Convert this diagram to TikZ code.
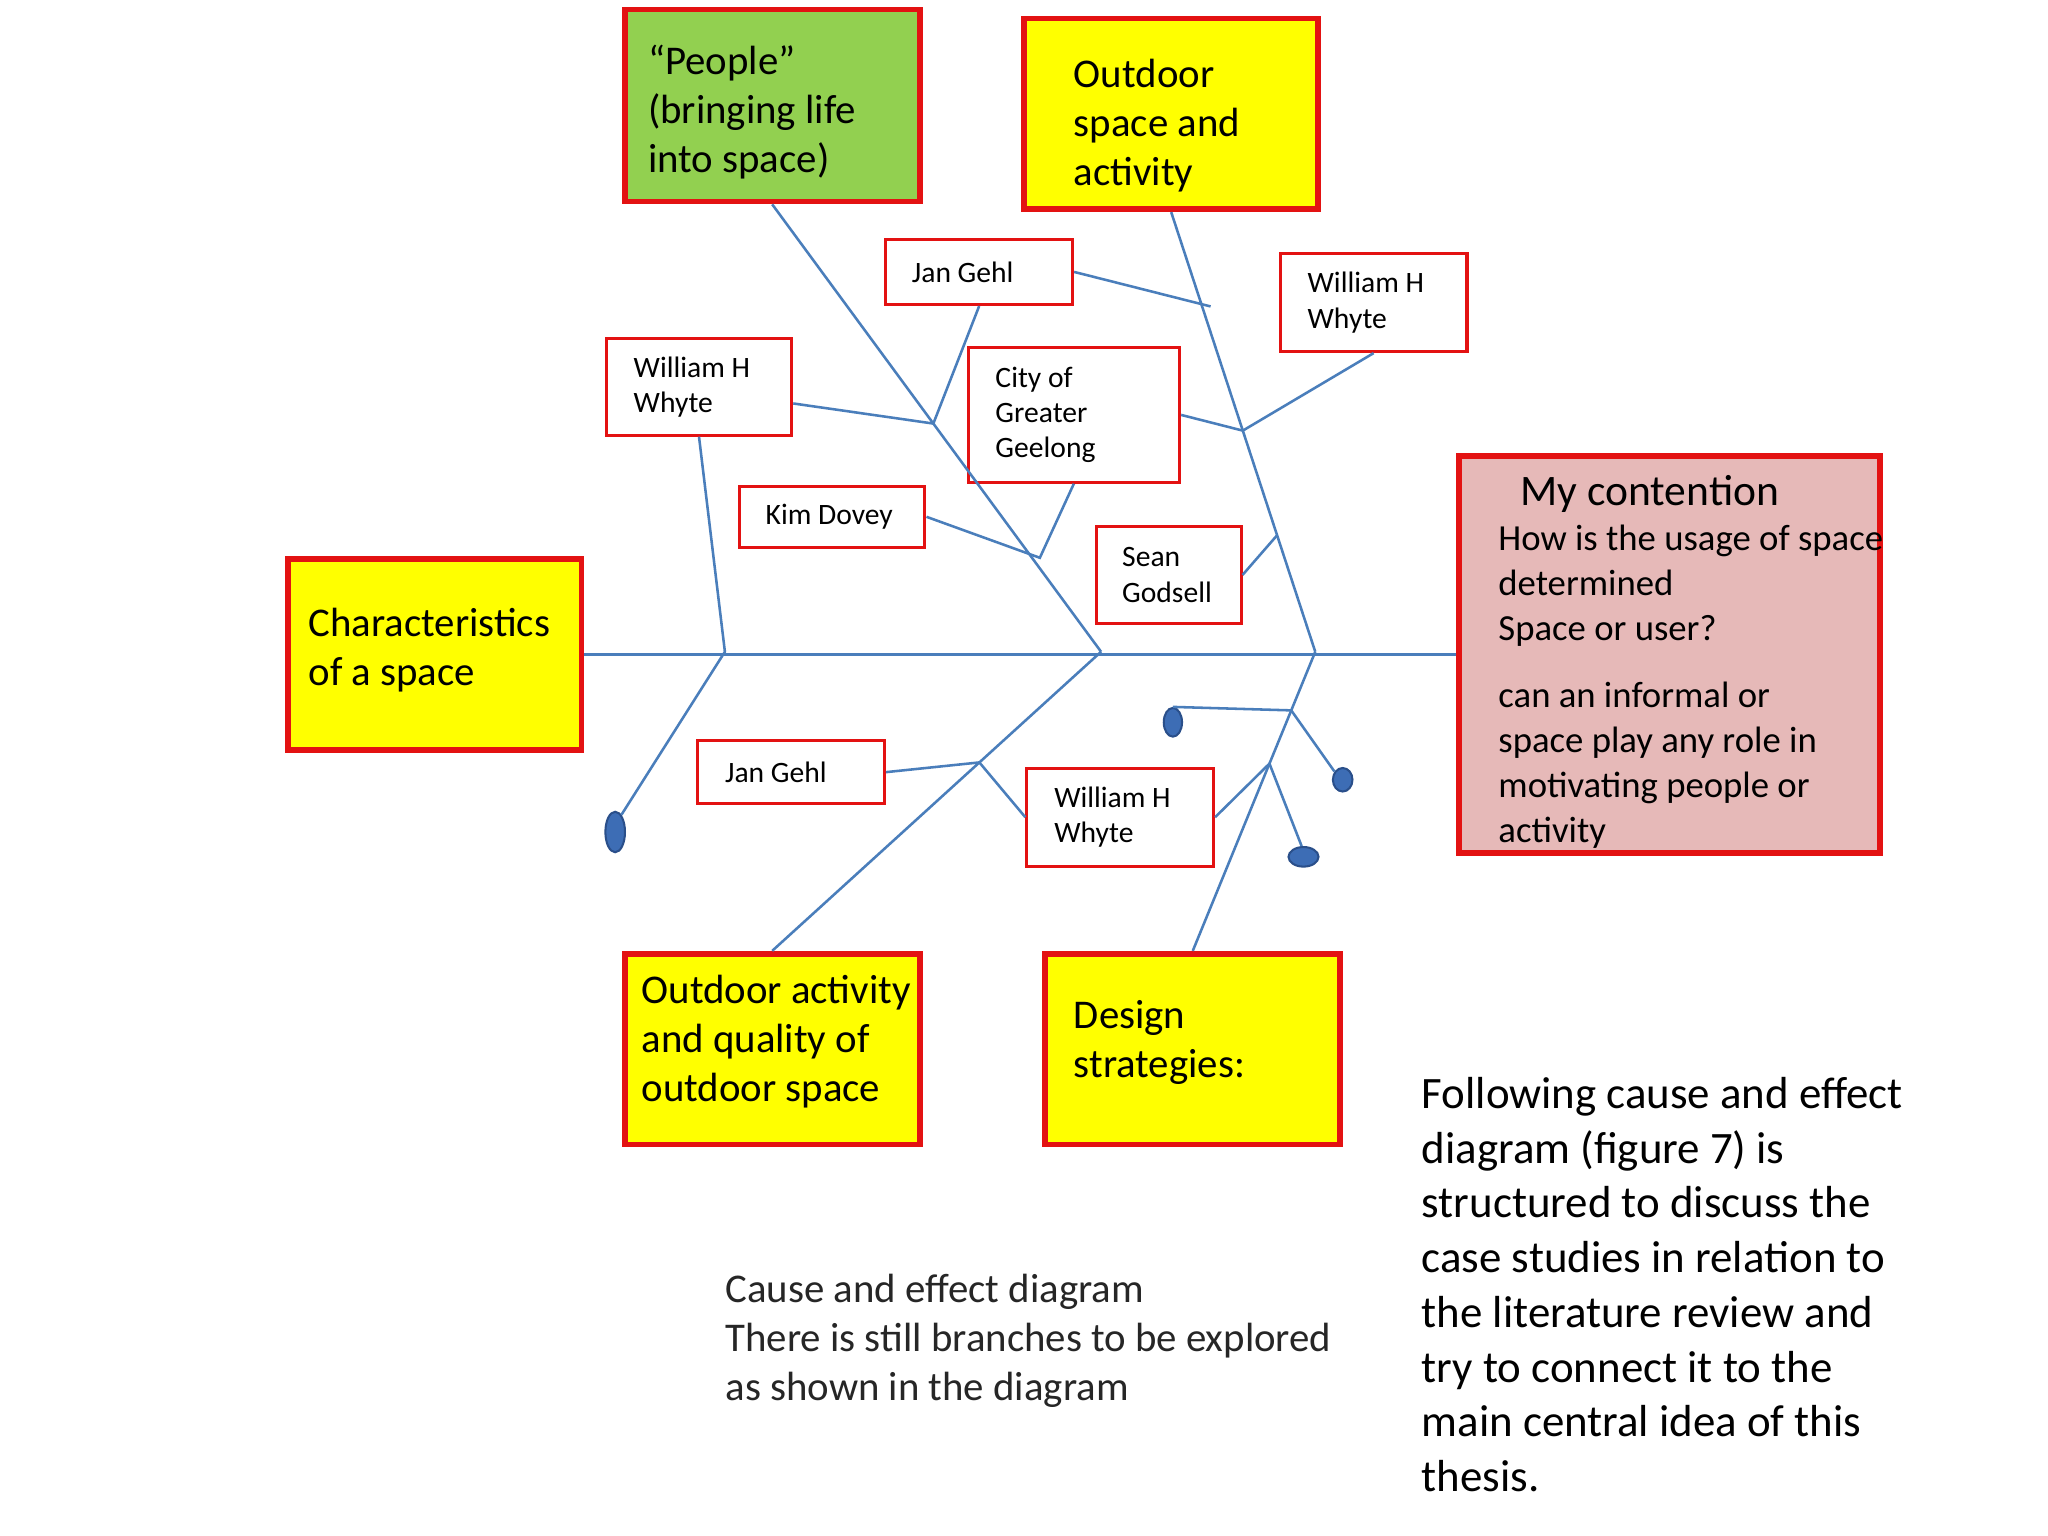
\documentclass[tikz,border=0pt]{standalone}
\usepackage{fontspec}
\setmainfont{Carlito}
\usetikzlibrary{calc,shapes.geometric}
\hyphenpenalty=10000

\definecolor{boxred}{HTML}{E31212}
\definecolor{causeyellow}{HTML}{FFFF00}
\definecolor{peoplegreen}{HTML}{92D050}
\definecolor{contentionpink}{HTML}{E6B9B8}
\definecolor{bonecolor}{HTML}{4A7EBB}
\definecolor{dotfill}{HTML}{3D6DB5}
\definecolor{dotdraw}{HTML}{2A4F8A}

\newcommand{\px}[1]{\the\dimexpr 0.384pt*#1\relax}

\begin{document}
\begin{tikzpicture}[
		x=0.384pt, y=-0.384pt,
		bigbox/.style={rectangle, draw=boxred, line width=1.7pt, fill=causeyellow, anchor=north west, align=flush left, inner ysep=0pt, text height=0pt, font=\fontsize{12}{14.4}\selectfont},
		namebox/.style={rectangle, draw=boxred, line width=0.9pt, fill=white, anchor=north west, align=flush left, inner ysep=0pt, font=\fontsize{8.7}{10.4}\selectfont},
		bone/.style={draw=bonecolor, line width=0.75pt},
		knob/.style={ellipse, draw=dotdraw, fill=dotfill, line width=0.6pt, inner sep=0pt}
		]
		\fill[white] (0,0) rectangle (1568,1176);
		% Cause boxes
		\node[bigbox, fill=peoplegreen, text width=\px{190}, inner xsep=\px{18}, text depth=\px{47}, minimum height=\px{147}] (people) at (476,5) {“People”\\(bringing life\\into space)};
		\node[bigbox, text width=\px{149}, inner xsep=\px{38}, text depth=\px{41}, minimum height=\px{146}] (outspace) at (782,12) {Outdoor\\space and\\activity};
		\node[bigbox, text width=\px{193}, inner xsep=\px{16}, text depth=\px{28}, minimum height=\px{146}] (chars) at (218,426) {Characteristics\\of a space};
		\node[bigbox, text width=\px{200}, inner xsep=\px{13}, text depth=\px{70}, minimum height=\px{146}] (outact) at (476,728) {\mbox{Outdoor activity}\\and quality of\\outdoor space};
		\node[bigbox, text width=\px{182}, inner xsep=\px{22}, text depth=\px{31}, minimum height=\px{146}] (design) at (798,728) {Design\\strategies:};
		% Effect box
		\node[bigbox, fill=contentionpink, text width=\px{262}, inner xsep=\px{30}, text depth=\px{228}, minimum height=\px{304}, font=\fontsize{10.8}{13.2}\selectfont] (contention) at (1115,347) {\hspace*{\px{17}}{\fontsize{12.8}{15}\selectfont My contention}\\
			\mbox{How is the usage of space}\\
			determined\\
			Space or user?\\[\px{17}]
			can an informal or\\
			space play any role in\\
			motivating people or\\
			activity};
		% Authors
		\node[namebox, text width=\px{103}, inner xsep=\px{20}, minimum height=\px{50}] (janTop) at (677,182) {Jan Gehl};
		\node[namebox, text width=\px{100}, inner xsep=\px{21}, minimum height=\px{74}] (whwLeft) at (463,258) {William H\\Whyte};
		\node[namebox, text width=\px{120}, inner xsep=\px{21}, minimum height=\px{103}] (geelong) at (740,265) {City of\\Greater\\Geelong};
		\node[namebox, text width=\px{101}, inner xsep=\px{21}, minimum height=\px{75}] (whwRight) at (979,193) {William H\\Whyte};
		\node[namebox, text width=\px{102}, inner xsep=\px{20}, minimum height=\px{47}] (dovey) at (565,371) {Kim Dovey};
		\node[namebox, text width=\px{71}, inner xsep=\px{20}, minimum height=\px{74}] (godsell) at (838,402) {Sean\\Godsell};
		\node[namebox, text width=\px{101}, inner xsep=\px{21}, minimum height=\px{48}] (janLow) at (533,566) {Jan Gehl};
		\node[namebox, text width=\px{101}, inner xsep=\px{21}, minimum height=\px{75}] (whwLow) at (785,587) {William H\\Whyte};
		% Open branch ends
		\node[knob, minimum width=\px{15}, minimum height=\px{31}] (k1) at (471,637) {};
		\node[knob, minimum width=\px{14}, minimum height=\px{22}] (k2) at (898,553) {};
		\node[knob, minimum width=\px{15}, minimum height=\px{18}] (k3) at (1028,597) {};
		\node[knob, minimum width=\px{23}, minimum height=\px{15}] (k4) at (998,656) {};
		% Spine
		\coordinate (j1) at (555,499);
		\coordinate (j2) at (843,499);
		\coordinate (j3) at (1007,499);
		\draw[bone] (chars.east) -- (contention.west);
		% Upper ribs
		\draw[bone] (people.south) -- (j2);
		\coordinate (pa) at ($(people.south)!0.49!(j2)$);
		\coordinate (pb) at ($(people.south)!0.79!(j2)+(6,0)$);
		\draw[bone] (janTop.south) -- (pa) -- (whwLeft.-10);
		\draw[bone] (dovey.east) -- (pb) -- (geelong.south);
		\draw[bone] (outspace.south) -- (j3);
		\coordinate (oa) at ($(outspace.south)!0.21!(j3)+(7,1.5)$);
		\coordinate (ob) at ($(outspace.south)!0.497!(j3)$);
		\coordinate (oc) at ($(outspace.south)!0.735!(j3)$);
		\draw[bone] (janTop.east) -- (oa);
		\draw[bone] (geelong.east) -- (ob) -- (whwRight.south);
		\draw[bone] (godsell.east) -- (oc);
		\draw[bone] (whwLeft.south) -- (j1) -- (k1.70);
		% Lower ribs
		\draw[bone] (j2) -- (outact.north);
		\coordinate (qa) at ($(j2)!0.37!(outact.north)$);
		\draw[bone] (janLow.east) -- (qa) -- (whwLow.west);
		\draw[bone] (j3) -- (design.north);
		\coordinate (ra) at ($(j3)!0.196!(design.north)$);
		\coordinate (rb) at ($(j3)!0.374!(design.north)$);
		\draw[bone] (k2.north) -- (ra) -- (k3.135);
		\draw[bone] (whwLow.east) -- (rb) -- (k4.100);
		% Notes
		\node[anchor=base west, align=left, inner sep=0pt, text=black!85, font=\fontsize{12}{14.4}\selectfont] (figcaption) at (555,1072) {Cause and effect diagram\\There is still branches to be explored\\as shown in the diagram};
		\node[anchor=base west, align=left, inner sep=0pt, font=\fontsize{13.2}{16.1}\selectfont] (thesisnote) at (1088,1142) {Following cause and effect\\diagram (figure 7) is\\structured to discuss the\\case studies in relation to\\the literature review and\\try to connect it to the\\main central idea of this\\thesis.};
\end{tikzpicture}
\end{document}
